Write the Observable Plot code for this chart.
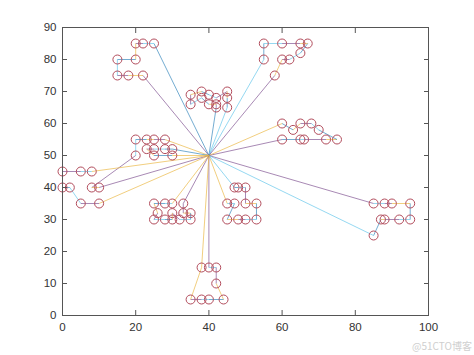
<!DOCTYPE html>
<html><head><meta charset="utf-8">
<script src="https://cdn.jsdelivr.net/npm/d3@7"></script>
<script src="https://cdn.jsdelivr.net/npm/@observablehq/plot@0.6"></script>
<style>
body{margin:0;background:#fff;}
#wrap{position:relative;width:474px;height:355px;overflow:hidden;}
#wm{position:absolute;left:412px;top:338px;font:10px "Noto Sans CJK SC",sans-serif;color:#cfcfcf;white-space:nowrap;}
</style></head><body><div id="wrap"></div>
<script>
// depot
const depot = [40, 50];
// customer coordinates (id 1..100)
const custX = [45,45,42,42,42,40,40,38,38,35,35,
  25,22,22,20,20,18,15,15,
  30,30,28,28,25,25,25,23,23,20,20,
  10,10,8,8,5,5,2,0,0,
  35,35,33,33,32,30,30,30,28,28,26,25,25,
  44,42,42,40,40,38,38,35,
  50,50,50,48,48,47,47,45,45,
  95,95,53,92,53,45,90,88,88,87,85,85,
  75,72,70,68,66,65,65,63,60,60,
  67,65,65,62,60,60,58,55,55];
const custY = [68,70,66,68,65,69,66,68,70,66,69,
  85,75,85,80,85,75,75,80,
  50,52,52,55,50,52,55,52,55,50,55,
  35,40,40,45,35,45,40,40,45,
  30,32,32,35,30,30,32,35,30,35,32,30,35,
  5,10,15,5,15,5,15,5,
  30,35,40,30,40,35,40,30,35,
  30,35,30,30,35,65,35,30,35,30,25,35,
  55,55,58,60,55,55,60,58,55,60,
  85,85,82,80,80,85,75,80,85];
// vehicle routes (customer ids, depot implied at both ends)
const routes = [
  [5,3,7,8,10,11,9,6,4,2,1,75],
  [12,14,16,15,19,18,17,13],
  [99,100,97,93,92,94,95,96,98],
  [90,87,86,83,82,84,85,88,89,91],
  [81,78,76,71,70,73,77,79,80],
  [57,55,54,53,56,58,60,59],
  [67,65,63,62,74,72,61,64,68,66,69],
  [43,42,41,40,44,46,45,48,51,50,52,49,47],
  [23,26,28,30,29,33,32],
  [21,22,25,27,24,20],
  [34,36,39,38,37,35,31]
];
const xTicks = [0,20,40,60,80,100];
const yTicks = [0,10,20,30,40,50,60,70,80,90];

// styles
const BLUE="#2a7fb8", CYAN="#5cc3ea", YEL="#e9b43a", PUR="#7a4a8c";
const outColor  = [BLUE, BLUE, CYAN, PUR, PUR, PUR, CYAN, PUR, YEL, BLUE, YEL];
const backColor = [CYAN, PUR, PUR, YEL, CYAN, YEL, YEL, YEL, PUR, YEL, YEL];
const segPalette = [PUR, YEL, BLUE, CYAN];

const pt = id => id === 0 ? {x: depot[0], y: depot[1]} : {x: custX[id-1], y: custY[id-1]};
const segments = [];
let k = 0;
routes.forEach((r, ri) => {
  const seq = [0, ...r, 0];
  for (let i = 0; i < seq.length - 1; i++) {
    const a = pt(seq[i]), b = pt(seq[i+1]);
    let color;
    if (i === 0) color = outColor[ri];
    else if (i === seq.length - 2) color = backColor[ri];
    else color = segPalette[(k++) % segPalette.length];
    segments.push({x1: a.x, y1: a.y, x2: b.x, y2: b.y, color});
  }
});
const customers = custX.map((x, i) => ({x, y: custY[i]}));

const chart = Plot.plot({
  width: 474, height: 355,
  marginLeft: 62, marginRight: 46, marginTop: 27, marginBottom: 40,
  x: {domain: [0, 100]},
  y: {domain: [0, 90]},
  style: {fontFamily: "'Liberation Sans', Arial, sans-serif", fontSize: "11.5px", color: "#333", background: "#fff"},
  marks: [
    Plot.link(segments, {x1: "x1", y1: "y1", x2: "x2", y2: "y2", stroke: d => d.color, strokeWidth: 1, strokeOpacity: 0.65}),
    Plot.dot(customers, {x: "x", y: "y", r: 4.5, stroke: "#b24c5c", strokeWidth: 1, fill: "none"}),
    Plot.frame({stroke: "#555"}),
    Plot.axisX(xTicks, {anchor: "bottom", tickSize: 0, tickPadding: 7, label: null}),
    Plot.axisX(xTicks, {anchor: "bottom", tickSize: -5, tickFormat: () => "", label: null, stroke: "#555"}),
    Plot.axisX(xTicks, {anchor: "top", tickSize: -5, tickFormat: () => "", label: null, stroke: "#555"}),
    Plot.axisY(yTicks, {anchor: "left", tickSize: 0, tickPadding: 6, label: null}),
    Plot.axisY(yTicks, {anchor: "left", tickSize: -5, tickFormat: () => "", label: null, stroke: "#555"}),
    Plot.axisY(yTicks, {anchor: "right", tickSize: -5, tickFormat: () => "", label: null, stroke: "#555"})
  ]
});
const wrap = document.getElementById("wrap");
wrap.appendChild(chart);
const wm = document.createElement("div");
wm.id = "wm";
wm.textContent = "@51CTO博客";
wrap.appendChild(wm);
</script>
</body></html>
